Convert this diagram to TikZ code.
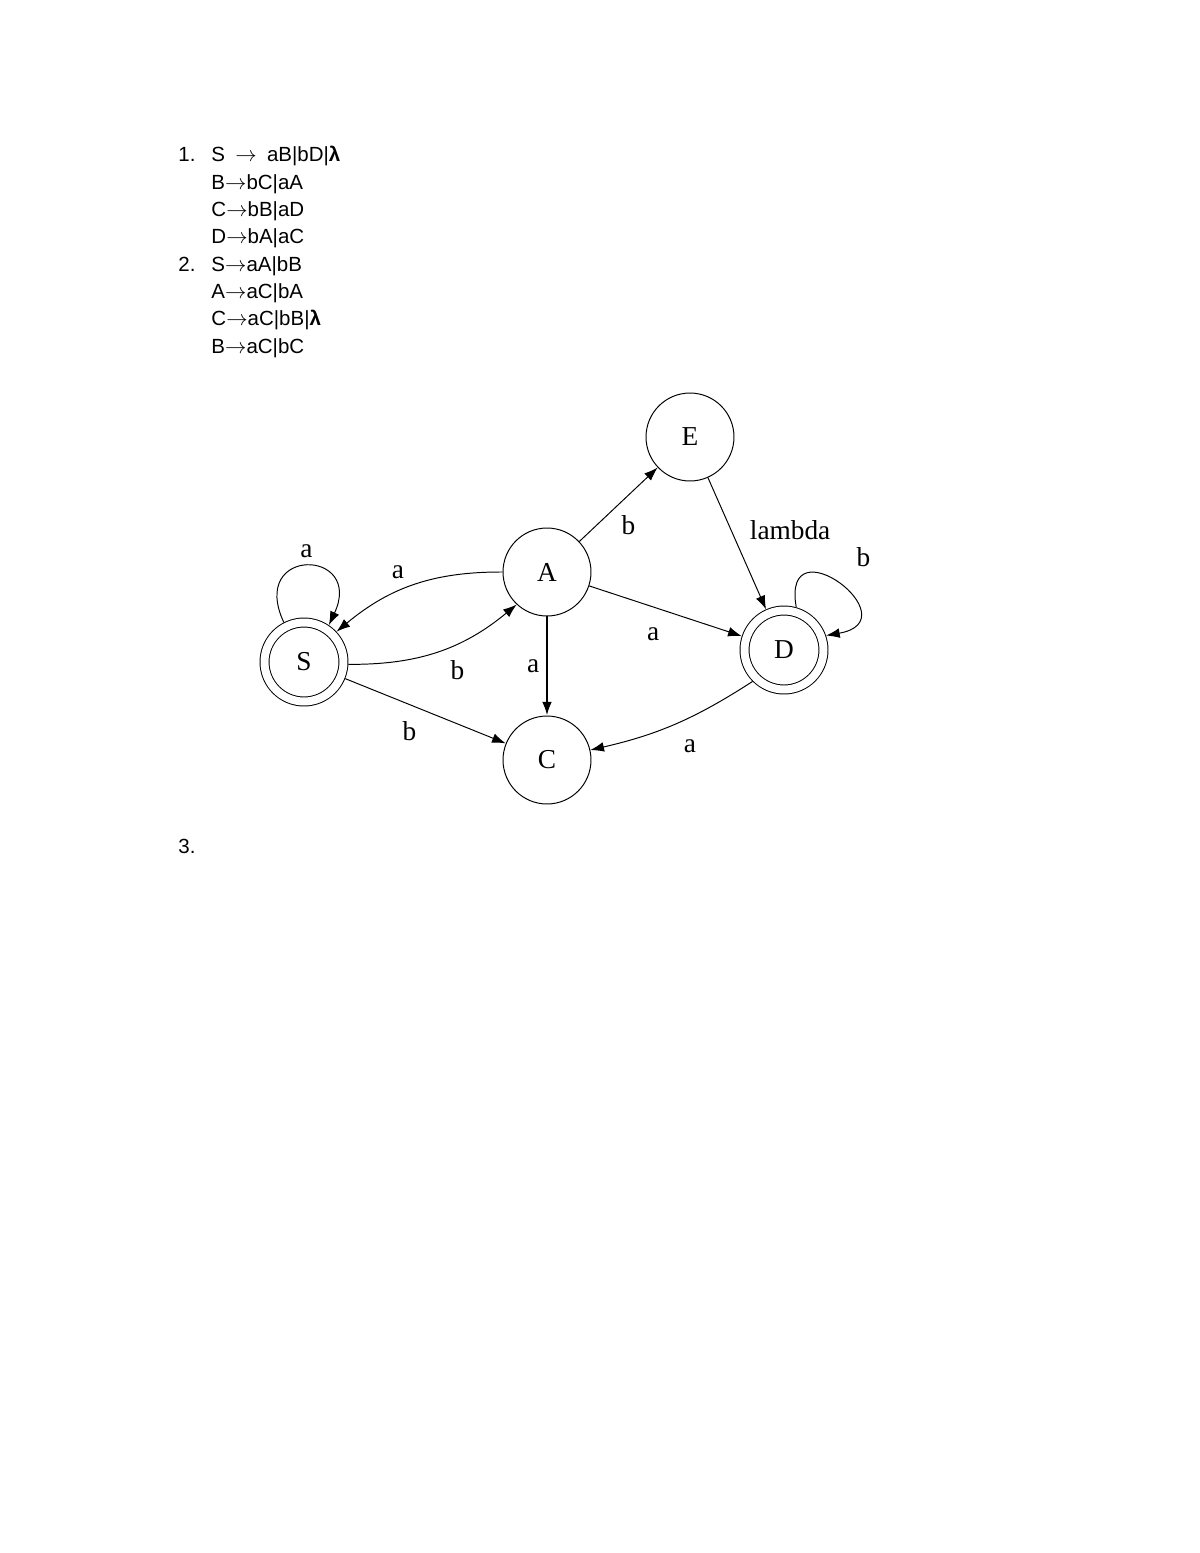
\documentclass[tikz,border=0pt]{standalone}
\usepackage{fontspec}
\setmainfont{Liberation Serif}
\newfontfamily\listfont{Liberation Sans}
\usetikzlibrary{arrows.meta, positioning}

\newcommand{\prodto}{\ensuremath{\rightarrow}}

\begin{document}
\begin{tikzpicture}[%
    x=0.018cm, y=0.018cm,
    >={Latex[length=7pt, width=5pt]},   % arrow style
    line width=0.5pt,
    every node/.style={font=\fontsize{14}{16}\selectfont},
    listline/.style={anchor=base west, inner sep=0pt, font=\listfont\fontsize{10.5}{12}\selectfont},
    state/.style={draw, circle, minimum size=1.584cm, inner sep=0pt},
    finalstate/.style={draw, circle, double, double distance=4.1pt, minimum size=1.422cm, inner sep=0pt, outer sep=2.55pt},
    ]

\useasboundingbox (0,0) rectangle (1200,-1553);

%==================================================
% Grammars
%==================================================
\node[listline] (n1) at (178,-161) {1.};
\node[listline] (g1a) at (211,-161) {S\enspace\prodto\enspace aB|bD|\textbf{λ}};
\node[listline] (g1b) at (211,-189) {B\prodto{}bC|aA};
\node[listline] (g1c) at (211,-216) {C\prodto{}bB|aD};
\node[listline] (g1d) at (211,-243) {D\prodto{}bA|aC};

\node[listline] (n2) at (178,-271) {2.};
\node[listline] (g2a) at (211,-271) {S\prodto{}aA|bB};
\node[listline] (g2b) at (211,-298) {A\prodto{}aC|bA};
\node[listline] (g2c) at (211,-325) {C\prodto{}aC|bB|\textbf{λ}};
\node[listline] (g2d) at (211,-353) {B\prodto{}aC|bC};

\node[listline] (n3) at (178,-853) {3.};

%==================================================
% States
%==================================================
\node[finalstate] (S) at (304,-662) {S};
\node[state]      (A) at (547,-572) {A};
\node[state]      (E) at (690,-437) {E};
\node[finalstate] (D) at (784,-650) {D};
\node[state]      (C) at (547,-760) {C};

%==================================================
% Transitions
%==================================================
% Loops
\draw[->] (S.117) to[out=115, in=65, looseness=4.8] node[above=1pt] {a} (S.56);
\draw[->] (D.74) to[out=100, in=10, looseness=5.5] node[above right=5pt and 6pt] {b} (D.19);

% Between S and A
\draw[->] (A.west) to[bend right=20] node[pos=0.6, above=3pt] {a} (S.43);
\draw[->] (S.-3) to[bend right=20] node[pos=0.62, below=5pt] {b} (A.227);

% Into C
\draw[->] (S) -- node[pos=0.4, below=5pt] {b} (C);
\draw[->, line width=1.2pt] (A) -- node[left] {a} (C);
\draw[->] (D.225) to[bend left=10] node[pos=0.4, below=8pt] {a} (C.13);

% Out of A and E
\draw[->] (A) -- node[pos=0.45, below right] {b} (E);
\draw[->] (A) -- node[pos=0.42, below=7pt] {a} (D);
\draw[->] (E) -- node[pos=0.4, right=6pt] {lambda} (D);

%==================================================
\end{tikzpicture}
\end{document}
